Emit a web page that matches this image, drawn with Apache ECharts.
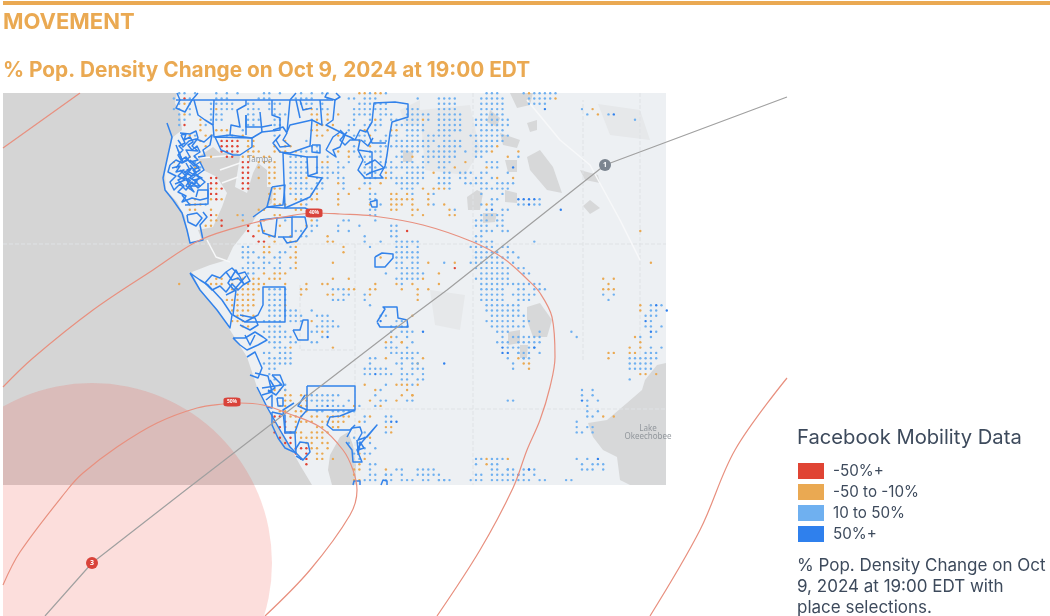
<!DOCTYPE html>
<html><head><meta charset="utf-8">
<style>html,body{margin:0;padding:0;background:#fff}#c{width:1050px;height:616px}</style>
<script src="https://cdn.jsdelivr.net/npm/echarts@6/dist/echarts.min.js"></script>
</head><body><div id="c"></div>
<script>
const heading = "MOVEMENT";
const subheading = "% Pop. Density Change on Oct 9, 2024 at 19:00 EDT";
const legendTitle = "Facebook Mobility Data";
const caption = "% Pop. Density Change on Oct\n9, 2024 at 19:00 EDT with\nplace selections.";
const bucketNames = ["-50%+", "-50 to -10%", "10 to 50%", "50%+"];
const bucketColors = ["#e04434", "#eaa952", "#6fb0f0", "#2f80ed"];

// Dot lattice: row -> "column:codes" (r red, o orange, l light blue, b blue)
const densityRows = [
"3:ll.l 10:l.l.l 19:ll.l 26:l.l.ll 37:oolool 61:lll 68:lolllll",
"2:l.rl 10:lll 18:lll 25:llll 31:l 35:ll.lll 48:l 52:llll 60:lllll 69:lllllo",
"3:lol 9:lllll 16:ll 20:lll 26:lll.l 37:llllll 52:llll 60:lllll 69:llll",
"2:ll.l 9:lolll 16:lll 20:ll 27:ool 30:ll 36:lllllll 46:lll 52:llll 60:lllll 72:b 79:l.o",
"3:lol 9:lll 16:ll 21:lll 28:oo.o 33:o 36:llll.lll 46:lllll 52:lllll 60:lllll 80:l.o.l 85:b",
"3:ll 7:o 9:lll 16:lll 21:ll 28:lo 31:o 36:l 39:lol.ll 46:lllol.l 52:lllll 59:lllllll 89:l",
"3:lr 7:ol 16:ll 21:ll 29:oo 32:o 35:ll 38:llll 44:llllll 52:lllll 59:lllllll",
"7:o 10:ooo 15:l 21:l 28:oo 31:o 35:l 38:o.l 43:oo.llll 52:lllll 60:lllll",
"5:ol 8:oo 12:ll 15:o 21:l 29:oo 33:ol 36:lllo 42:lll.lll 50:lllll 58:llllllll",
"7:o 11:rrrr 16:oo 23:o 27:l 37:ol 41:ll.l 45:lllllll 53:llll 59:llllll",
"8:o 11:rrrr 16:oo 21:o.oo 28:ll 36:l 39:o.lll 44:lllllll 52:lllll 59:llllo",
"11:rrrr 16:ooo 21:ooo 25:oll.l 33:o.ol 39:lll 45:llll.ll 52:llll.l 59:lllo 67:o",
"5:ol 9:o 12:rr 15:ooo.oo 24:lll 29:l 31:l 35:o.ll 39:l.l 44:ll.o.lll 52:llll 59:ll 65:o 67:l",
"2:o 6:lo 15:rr 18:ooo 21:o 24:llll 30:oo 33:l.l 38:ll.lll 45:lll.ll 52:lll 57:o 61:lll",
"6:ol 15:rr.o 20:oo 24:llll 29:lll 33:ll 38:lll.lll 45:lllll 52:ll.o 61:oll 66:b",
"15:rr 20:oo 24:llll 29:lll 32:ll 38:lll.ol 46:llll 51:o.ll 56:lll 60:ll 65:l",
"9:rr 15:rr 18:o 20:oo 24:lllo 29:lll 33:ll 38:lll 42:olll 46:llll 52:lll 56:ll.ll.lo 66:o",
"5:o 9:rr 15:rr 20:o 24:llll 29:ll 33:ol 38:ll 41:o 44:lllll 52:lll 57:lllll 63:llll",
"5:o 9:ror 15:rr 21:oo 24:ollll 29:ll 34:l 37:o.o 45:lll.o.oo 53:ol 60:llllll",
"9:rr 20:oo 24:lll 28:oo 33:o.o 39:ll 43:oo 46:ol 50:ol 60:l 64:l",
"6:o 9:oro 20:oo 25:oll 28:oo 33:o 39:ll 43:ooo 46:oo 50:o 62:ll 67:bbbbl",
"5:oo 7:ol 21:ooo 26:ol 33:o 39:o.l 43:ooo.o 50:ol 53:o 60:lol 67:llbll",
"5:oo 9:o 18:oo 25:oo 39:ll 43:oo 47:oo 54:ol 61:lb.ll 75:b",
"9:ro 14:ol 21:oo 28:l 39:ll 47:o.o 54:oo 60:lllll",
"9:oor 15:o 19:o 23:l 28:ol 34:ll 40:l 59:lll.ll",
"8:oo.r 16:r.o 22:o 27:oll 33:l 37:l 43:ll 59:lll.ll",
"16:r 18:oo 25:ll.l 33:l.l 43:ll 46:r 60:lll 64:ll 90:o",
"17:r 20:oo 24:o.ll 31:o 38:l 43:ll 59:ll",
"18:rr 21:o 24:oo 31:oo 38:l 41:l 44:lllll 59:llll 70:l",
"15:ll 19:oo 24:lo 34:o 39:l 44:lll.l 58:lllll 64:ll",
"15:lll 19:oo.ll 25:o 34:o 44:lllll 59:lllll 65:ll",
"15:ll.l 19:l.ll 24:oo 41:o 44:lllll 59:lllllll 67:l",
"16:ll 19:ll.l 25:o 32:o 44:ll.ll 50:o 53:l.o 58:lllllll 66:l 92:o",
"15:lllll 21:ll 24:lo 44:lllll 55:r 59:lllllll 67:ll",
"16:ll 19:o.o 22:oo 42:l 45:lllll 52:o 60:llllll 68:ll",
"10:oo 14:oo 17:oo.o 21:oo 32:o 35:o 44:lllll 49:o 59:lllllll 83:o.o",
"3:o 9:ooo 13:o 16:oooo 23:o 27:o 30:oo 40:o 44:ol.o 52:o 60:lllllll 67:lllll 84:o",
"13:oooooo 20:llll 26:oo 32:lll 35:oo 39:oo 45:o 48:o 50:o 60:lllll 67:ll.lll 83:ooo",
"14:oooo 20:llll 26:o 31:oo.ll 38:lo 48:o 60:lllll 66:lllll 83:l.l",
"12:oooooo 20:llll 32:lll 38:l 48:o 60:lllll 67:lll 84:l",
"13:ooooo 20:lllo 39:l 61:lllllll 90:o.l.l 93:b",
"13:oooo 20:llll 23:lll 28:l 61:lllll 66:ll 90:o.ll.b",
"14:oo.o 20:llll 24:lll 29:lll 41:ll 47:o 62:lllll 67:ll 91:lll",
"13:ooo 19:llll 24:lll 28:o 30:lll 41:b 44:ll 61:lllll 66:l.ll 91:bl",
"15:oo 20:lll 29:lllll 43:lll 46:l 62:llll 66:lll 91:ll.l",
"19:ll 21:lll 28:llo 31:l 43:l.l 46:ll.b 63:lll 71:l 77:l 92:bl",
"20:lll 23:ll 30:lb 43:ol 46:l 64:l 66:lll 69:ll 71:l 78:l 89:ol 92:l",
"20:lll 24:ll 28:ll 42:ol.o 45:o.l 63:lll.l 68:llll 90:o",
"21:lll 24:o 32:o 42:lll 46:l 64:bll 67:l.ll 70:b 88:o 90:o.l.l",
"19:ll 22:lll 43:lll 46:lll 64:bb.l 67:lll 71:l 84:oo 88:oo 91:lll",
"20:lllll 39:ll 42:o 45:lll.o 65:l.ol 68:ll 84:o 88:llllll",
"19:lll 22:lll 39:l 44:ll.ll 48:o 53:b 66:l 68:oo 88:lllll",
"20:ll 38:lllll 45:l.lll 66:l 69:o 88:lllll",
"20:l 38:llblll 45:lll 49:l 90:oo.o",
"21:l 45:ll.ll 88:l",
"22:ll 38:o 42:l.ooo.o 47:l",
"21:ooo 23:l 40:ol 46:o 79:l.l",
"23:oo 26:oo 28:llllll 40:l 45:o.o 47:o 79:l.l",
"23:oo 27:o 28:lllll 35:l 39:o.ll 44:o.ll 65:ll 79:bl.l",
"22:oo 26:oo 29:llbll 34:l.ol 40:lo 80:l",
"22:oo.ooo 29:ll.ll 34:lll 80:l.l",
"21:rr.ooo 28:oo.oo 33:ooo 38:lo 42:ll 80:ll.o.o",
"21:r.r.oo 27:oo.ooo 33:oo 37:ol 42:lbb 78:l",
"22:rr 25:o 29:oo.oo 33:o 42:oo 78:l.ll",
"21:r.rr 25:oo 28:oooo 38:l 42:lo 78:ll.l",
"22:r.r 26:ooo 29:oo 36:l 38:lo",
"23:rr 27:oo.oo 35:l 37:l.l",
"25:rrr 28:oo.o 37:ll.l",
"25:r.r 29:oo 36:lo 38:ll",
"26:rr 29:oo.o 37:lo 59:lloll 64:lo 78:l.l.b",
"27:r 37:o.ll 59:l.ol 63:l 79:l.lll",
"36:oo 39:l 42:o.ll 48:llll 62:ll.l 65:ll.lb 69:ll 79:lll.l",
"36:o 39:ll.l 42:ll 45:l 48:lllll 59:ll 62:lll 65:llbl 70:l",
"36:oo 38:lll.ll.lll.ll.lll 52:ll 58:lll.ll 64:llllll 71:ll 76:ll"
];

// Geography in map units
const mapFrame = [[3,93],[666,93],[666,485],[3,485]];
const landArea = [[177,93],[175,103],[180,113],[182,130],[173,137],[168,153],[165,173],[166,190],[177,202],[185,217],[190,243],[202,240],[198,230],[213,227],[222,207],[227,193],[217,177],[203,170],[198,157],[213,147],[220,153],[237,153],[240,157],[235,187],[247,193],[253,173],[258,163],[267,170],[267,187],[273,187],[272,203],[257,215],[252,223],[233,247],[227,260],[210,265],[192,272],[200,290],[217,310],[230,330],[247,357],[257,387],[267,407],[280,430],[290,447],[300,465],[312,485],[332,485],[328,470],[330,455],[340,437],[348,432],[353,445],[356,465],[356,485],[666,485],[666,93]];
const lakes = [
[[666,363],[657,365],[645,380],[642,390],[627,403],[607,420],[588,423],[593,437],[603,450],[617,457],[620,480],[630,485],[666,485]],
[[510,93],[533,93],[530,105],[517,108]],[[527,123],[537,120],[537,130],[530,132]],[[500,133],[520,140],[517,148],[503,145]],
[[527,157],[540,150],[553,167],[562,193],[547,190],[530,170]],[[505,190],[517,193],[517,203],[505,202]],[[505,160],[517,160],[517,172],[508,172]],
[[403,150],[413,152],[412,162],[403,162]],[[477,190],[483,193],[480,210],[468,210],[467,197]],[[483,213],[497,213],[495,222],[483,223]],
[[527,307],[540,303],[552,320],[547,337],[533,337],[527,320]],[[508,332],[520,330],[520,343],[508,345]],[[520,345],[528,345],[527,358],[520,358]],
[[590,200],[600,208],[590,214],[583,206]],[[490,110],[500,118],[497,127],[487,122]],[[580,170],[598,175],[600,183],[585,180]]
];
const townAreas = [
[[420,110],[470,105],[480,150],[465,175],[425,170]],[[400,110],[420,100],[420,125],[405,125]],
[[598,104],[640,110],[650,140],[610,135]],[[430,290],[465,295],[460,330],[435,325]]
];
const bridges = [[[200,158],[237,155]],[[220,170],[240,163]],[[222,183],[238,177]],[[207,240],[216,257],[230,262]],[[527,100],[560,140],[590,165],[620,220],[640,260]]];
const gridRoads = [[[3,244],[666,244]],[[473,93],[473,485]],[[355,244],[355,485]],[[355,409],[666,409]],[[640,93],[640,360]],[[583,360],[583,100]],[[300,285],[300,350],[355,350]]];

const selectionPaths = [
[[176,100],[333,100]],[[177,93],[180,100],[176,108],[185,112],[192,100],[198,93]],
[[194,100],[198,115],[205,120],[213,125],[214,137],[230,135],[231,125],[240,127],[237,110],[246,105],[246,100]],
[[215,137],[221,150],[233,155],[240,155],[252,147],[252,138],[215,137]],[[230,135],[252,138],[262,132],[280,130],[280,118],[272,115],[272,100]],
[[246,115],[246,127],[262,127],[272,125]],[[246,115],[246,135]],[[260,112],[262,132]],[[290,100],[296,93]],[[214,100],[213,125]],[[300,100],[303,110],[312,108]],
[[287,132],[290,100]],[[320,100],[322,125],[312,120]],[[296,100],[300,118]],[[335,100],[333,120],[326,125],[340,132]],
[[273,130],[283,127],[287,133],[283,140],[290,146],[280,147],[276,140],[280,135],[273,143],[280,152],[290,153],[310,146],[312,120],[290,125],[287,132]],
[[283,153],[307,157],[308,176],[322,178],[310,197],[285,208],[283,153]],[[307,157],[317,157],[317,173],[308,176]],
[[312,145],[320,145],[320,153],[312,152],[312,145]],[[326,150],[333,137],[340,132],[345,135],[340,147],[333,150],[336,157],[326,150]],
[[272,187],[285,185],[283,205],[267,207],[272,187]],[[253,217],[267,207],[283,208],[305,208],[316,213]],
[[260,220],[277,218],[275,237],[263,233],[260,220]],[[277,218],[292,217],[292,237],[278,237]],[[292,217],[305,217],[307,227],[297,241],[287,243],[283,237]],
[[327,93],[325,97],[335,100],[340,97],[336,93]],
[[340,130],[345,135],[350,137],[355,140],[360,130],[366,132],[372,122],[374,103],[395,102],[408,104],[408,117],[392,122],[390,133],[387,155],[385,166],[380,175],[383,178],[365,178],[358,170],[363,160],[358,150],[360,140],[350,140],[345,145],[340,140],[347,132]],
[[367,130],[372,143],[386,143]],[[358,150],[372,152],[372,177]],[[361,140],[368,146],[373,138]],[[365,165],[375,160],[384,168],[372,172],[366,175]],
[[370,202],[377,200],[377,207],[372,207],[370,202]],[[375,257],[382,253],[393,254],[393,258],[385,267],[375,267],[375,257]],
[[377,322],[385,309],[383,307],[397,307],[398,318],[407,320],[408,327],[380,327],[377,322]],
[[167,123],[172,137],[168,155],[163,178],[165,190],[173,200],[182,213],[187,230],[190,243],[203,240],[200,225],[207,217],[203,212]],
[[181,135],[186,134],[184,140],[190,137],[193,142],[188,145],[192,150],[197,146],[200,152],[194,156],[198,160],[190,162],[186,157],[181,160],[178,155],[183,150],[179,146],[185,143],[181,135]],
[[178,140],[183,147],[189,141],[196,139],[204,142],[212,135],[210,145],[203,150],[205,156],[198,157]],
[[180,133],[190,134],[196,131],[198,138],[192,146],[198,151],[186,150],[190,157],[183,162],[178,150]],
[[170,165],[176,160],[182,163],[188,160],[194,166],[200,162],[204,170],[197,175],[205,182],[198,188],[192,182],[186,190],[180,184],[174,190],[170,182],[176,176],[168,172],[170,165]],
[[186,163],[190,170],[184,172],[192,176],[186,180],[194,184],[199,178],[193,170],[199,167],[190,160]],
[[180,170],[186,176],[178,180],[184,186],[178,192],[186,196],[182,202],[192,198],[200,200],[208,198],[208,190],[198,190],[196,197]],
[[190,165],[196,172],[190,178],[197,182],[190,187],[185,175],[192,168],[187,170],[195,176],[188,182]],
[[192,162],[200,170],[193,174],[202,178],[194,180],[200,186],[190,186],[194,192],[186,186],[190,180],[183,178],[190,172]],
[[172,168],[180,166],[176,172],[184,170],[178,176],[185,180],[175,184]],
[[185,205],[208,204],[208,183]],[[187,215],[197,213],[202,218],[196,226],[188,222],[187,215]],[[182,195],[190,205]],[[176,145],[182,160],[176,168]],
[[190,273],[200,290],[217,310],[230,328],[232,315],[222,300],[208,285],[200,280],[190,273]],
[[205,283],[212,275],[220,278],[226,272],[232,268],[238,274],[245,272],[250,281],[243,285],[238,290],[232,284],[226,292],[220,286],[212,290],[205,283]],
[[226,272],[232,280],[238,278],[244,284],[236,270],[228,283],[234,290],[246,276]],
[[226,295],[236,290],[233,315],[245,322],[263,322],[285,322],[285,287],[263,287],[263,305],[258,315],[245,322]],
[[240,315],[255,318],[258,325],[250,330],[240,325]],[[233,338],[245,338],[255,332],[263,337],[267,340],[258,345],[247,350],[240,345],[233,338]],
[[245,335],[250,345],[255,335]],[[293,330],[300,330],[303,320],[308,320],[308,340],[298,340],[293,330]],
[[247,357],[255,352],[262,368],[258,378],[250,375]],[[255,373],[268,376],[272,392],[262,395]],[[272,375],[282,385],[262,388]],[[270,380],[275,388],[268,392]],
[[272,375],[280,375],[284,385],[276,395],[268,390]],[[266,400],[272,395],[272,408],[267,407]],[[277,398],[283,398],[283,406],[278,406],[277,398]],
[[257,387],[267,407],[280,430],[290,447],[303,460]],
[[307,386],[355,386],[355,410],[307,410],[307,386]],[[305,395],[298,406],[307,410],[300,418],[295,432],[285,432],[283,410],[294,403]],
[[355,410],[340,416],[330,417],[327,425],[333,430],[350,430],[355,425]],[[272,412],[285,415],[285,433],[295,433],[296,453],[285,448],[278,438],[272,425],[272,412]],
[[295,450],[300,442],[308,443],[310,452],[303,460],[296,456]],
[[347,437],[352,428],[360,427],[362,433],[358,440],[367,437],[377,425],[362,442],[357,450],[362,462],[353,462],[352,450],[346,442]],
[[357,440],[358,450],[364,448],[360,442],[358,455]],
[[353,485],[354,481],[360,481],[360,485]],[[381,485],[383,480],[387,481],[387,485]]
];

const stormCircleCenter = [92, 563];
const stormCircleRadius = 180;
const track1 = [[3,148],[80,93]];
const track2 = [[3,387],[33,358],[93,310],[153,270],[200,240],[253,223],[283,217],[315,213],[340,214],[373,216],[423,225],[473,242],[503,258],[528,280],[540,293],[552,317],[555,357],[550,387],[540,420],[527,450],[513,488],[480,550],[437,616]];
const track3 = [[3,585],[20,552],[68,489],[83,473],[117,447],[157,423],[197,408],[223,404],[240,403],[263,405],[287,413],[320,427],[343,450],[353,470],[357,490],[350,515],[310,570],[265,616]];
const track4 = [[787,378],[735,450],[700,530],[650,616]];
const stormPath = [[787,97],[605,165],[447,290],[400,325],[187,489],[92,563],[45,616]];

const probabilityTags = [{name:"40%",value:[314,213]},{name:"50%",value:[232,402]}];
const advisoryPoints = [{name:"1",value:[605,165],color:"#7c8590"},{name:"3",value:[92,563],color:"#d9433a"}];
const placeNames = [{name:"Tampa",value:[260,160]},{name:"Lake\nOkeechobee",value:[648,433]}];

// Column / row -> map units for the lattice
const dotOriginX = 163.3, dotOriginY = 93.2, dotStep = 5.3;
const buckets = {r:[], o:[], l:[], b:[]};
densityRows.forEach((row, r) => {
  row.split(" ").forEach(part => {
    const [start, codes] = part.split(":");
    [...codes].forEach((code, k) => {
      if (buckets[code]) buckets[code].push([dotOriginX + dotStep * (Number(start) + k), dotOriginY + dotStep * r]);
    });
  });
});

function polygonSeries(polys, fill, z) {
  return {
    type: "custom", coordinateSystem: "cartesian2d", silent: true, z, clip: true,
    data: polys.map((p, i) => [i]),
    renderItem(params, api) {
      const pts = polys[params.dataIndex].map(p => api.coord(p));
      return {type: "polygon", shape: {points: pts}, style: {fill}};
    }
  };
}
function pathSeries(paths, color, width, z, type) {
  return {
    type: "lines", coordinateSystem: "cartesian2d", polyline: true, silent: true, z, clip: true,
    data: paths.map(coords => ({coords})),
    lineStyle: {color, width, opacity: 1, type: type || "solid", join: "round"}
  };
}
function curveSeries(points, color, width, z) {
  return {
    type: "line", data: points, smooth: 0.35, showSymbol: false, silent: true, z, clip: true,
    lineStyle: {color, width}
  };
}

const series = [
  polygonSeries([mapFrame], "#d5d5d5", 1),
  polygonSeries([landArea], "#edf0f3", 2),
  polygonSeries(townAreas, "#e6e8ea", 3),
  polygonSeries(lakes, "#d7d8d9", 3),
  pathSeries(gridRoads, "#dfe2e5", 1, 3, "dashed"),
  pathSeries(bridges, "#f7f8f9", 1.5, 3),
  {
    type: "custom", coordinateSystem: "cartesian2d", silent: true, z: 9, clip: true,
    data: [[stormCircleCenter[0], stormCircleCenter[1], stormCircleRadius]],
    renderItem(params, api) {
      const c = api.coord([api.value(0), api.value(1)]);
      return {type: "circle", shape: {cx: c[0], cy: c[1], r: api.size([api.value(2), 0])[0]},
              style: {fill: "rgba(238,80,70,0.19)"}};
    }
  }
];
["r","o","l","b"].forEach((code, i) => series.push({
  type: "scatter", name: bucketNames[i], data: buckets[code], symbol: "circle", symbolSize: 2.4,
  itemStyle: {color: bucketColors[i], opacity: 1}, z: 5, silent: true, animation: false
}));
series.push(pathSeries(selectionPaths, "#3282ea", 1.5, 6));
[track1, track2, track3, track4].forEach(t => series.push(curveSeries(t, "#e8907f", 1.2, 10)));
series.push(pathSeries([stormPath], "#a0a0a0", 1.2, 10));
series.push({
  type: "scatter", data: placeNames, symbolSize: 0, z: 7, silent: true,
  label: {show: true, position: "inside", formatter: "{b}", color: "#80868c", fontSize: 8, fontFamily: "Noto Sans"}
});
series.push({
  type: "scatter", data: probabilityTags, symbol: "roundRect", symbolSize: [17, 9], z: 12, silent: true,
  itemStyle: {color: "#d9433a", opacity: 1},
  label: {show: true, position: "inside", formatter: "{b}", color: "#fff", fontSize: 5, fontWeight: "bold", fontFamily: "Noto Sans"}
});
series.push({
  type: "scatter", data: advisoryPoints.map(p => ({name: p.name, value: p.value, itemStyle: {color: p.color, opacity: 1}})),
  symbolSize: 12, z: 12, silent: true,
  label: {show: true, position: "inside", formatter: "{b}", color: "#fff", fontSize: 7, fontWeight: "bold", fontFamily: "Noto Sans"}
});

const chart = echarts.init(document.getElementById("c"), null, {renderer: "canvas"});
chart.setOption({
  animation: false,
  backgroundColor: "#fff",
  grid: {left: 3, right: 263, top: 93, bottom: 0, containLabel: false},
  xAxis: {type: "value", min: 3, max: 787, show: false},
  yAxis: {type: "value", min: 93, max: 616, inverse: true, show: false},
  title: [
    {text: heading, left: 3, top: 11, padding: 0, textStyle: {color: "#eaa952", fontSize: 22, fontWeight: 700, fontFamily: "Inter"}},
    {text: subheading, left: 3, top: 60, padding: 0, textStyle: {color: "#eaa952", fontSize: 20.8, fontWeight: 700, fontFamily: "Inter"}},
    {text: legendTitle, left: 797, top: 428, padding: 0, textStyle: {color: "#3d4a5c", fontSize: 20.2, fontWeight: 400, fontFamily: "Inter"}},
    {text: caption, left: 797, top: 555, padding: 0, textStyle: {color: "#3d4a5c", fontSize: 17, lineHeight: 21, fontWeight: 400, fontFamily: "Inter"}}
  ],
  legend: {
    orient: "vertical", left: 798, top: 463, itemWidth: 26, itemHeight: 16, itemGap: 5, icon: "rect",
    data: bucketNames, selectedMode: false,
    textStyle: {color: "#3d4a5c", fontSize: 15.2, fontFamily: "Inter", padding: [0,0,0,4]},
    padding: 0
  },
  graphic: [{type: "rect", left: 3, top: 1, shape: {width: 1047, height: 4}, style: {fill: "#eaa952"}, silent: true}],
  series
});
</script></body></html>
